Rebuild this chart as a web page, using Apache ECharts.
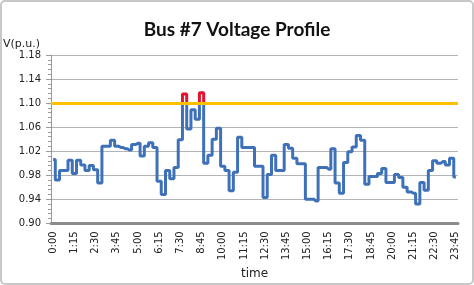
<!DOCTYPE html>
<html>
<head>
<meta charset="utf-8">
<script src="https://cdn.jsdelivr.net/npm/echarts@6/dist/echarts.min.js"></script>
<style>
html,body{margin:0;padding:0;background:#fff;}
#frame{position:absolute;left:0;top:0;width:474px;height:285px;box-sizing:border-box;border:2px solid #c8c8c8;border-radius:5px;background:#fff;}
#chart{position:absolute;left:0;top:0;width:474px;height:285px;}
</style>
</head>
<body>
<div id="frame"></div>
<div id="chart"></div>
<script>
const titleText = 'Bus #7 Voltage Profile';
const yAxisName = 'V(p.u.)';
const xAxisName = 'time';
const limitValue = 1.10;
const yTicks = { min: 0.90, max: 1.18, step: 0.04 };

const categories = [
'0:00','0:15','0:30','0:45','1:00','1:15','1:30','1:45','2:00','2:15','2:30','2:45',
'3:00','3:15','3:30','3:45','4:00','4:15','4:30','4:45','5:00','5:15','5:30','5:45',
'6:00','6:15','6:30','6:45','7:00','7:15','7:30','7:45','8:00','8:15','8:30','8:45',
'9:00','9:15','9:30','9:45','10:00','10:15','10:30','10:45','11:00','11:15','11:30','11:45',
'12:00','12:15','12:30','12:45','13:00','13:15','13:30','13:45','14:00','14:15','14:30','14:45',
'15:00','15:15','15:30','15:45','16:00','16:15','16:30','16:45','17:00','17:15','17:30','17:45',
'18:00','18:15','18:30','18:45','19:00','19:15','19:30','19:45','20:00','20:15','20:30','20:45',
'21:00','21:15','21:30','21:45','22:00','22:15','22:30','22:45','23:00','23:15','23:30','23:45'
];

const voltage = [
1.006,0.972,0.988,0.988,1.005,0.983,1.005,0.997,0.988,0.996,0.989,0.967,
1.028,1.028,1.038,1.028,1.026,1.024,1.022,1.031,1.033,1.012,1.028,1.034,
1.026,0.970,0.948,0.988,0.974,0.993,1.039,1.115,1.057,1.089,1.073,1.117,
1.000,1.013,1.040,1.058,0.995,0.988,0.954,0.985,1.043,1.026,1.026,1.026,
0.995,0.995,0.943,0.981,1.013,0.988,0.988,1.031,1.025,1.008,0.999,0.999,
0.940,0.940,0.937,0.993,0.993,0.990,1.024,0.967,0.950,1.001,1.019,1.027,
1.046,1.038,0.965,0.978,0.978,0.983,0.991,0.968,0.968,0.981,0.976,0.960,
0.952,0.950,0.932,0.968,0.955,0.988,1.004,1.000,1.003,0.997,1.008,0.977
];

const chart = echarts.init(document.getElementById('chart'), null, {renderer:'canvas'});
const fontFam = 'DejaVu Sans';
chart.setOption({
  animation: false,
  backgroundColor: 'transparent',
  title: {
    text: titleText, left: 'center', top: 15,
    textStyle: { fontFamily: 'Lato', fontWeight: 'bold', fontSize: 19, color: '#111' }
  },
  grid: { left: 49, right: 16, top: 55, bottom: 57, containLabel: false },
  visualMap: {
    show: false, type: 'piecewise', dimension: 1, seriesIndex: 0,
    pieces: [
      { gt: limitValue, lte: 2, color: '#e3142d' },
      { gte: 0, lte: limitValue, color: '#3f71b8' }
    ],
    outOfRange: { color: '#3f71b8' }
  },
  xAxis: {
    type: 'category', data: categories, boundaryGap: true,
    name: xAxisName, nameLocation: 'middle', nameGap: 40,
    nameTextStyle: { fontFamily: fontFam, fontSize: 12, color: '#222' },
    axisLine: { lineStyle: { color: '#8c8c8c', width: 3 } },
    axisTick: { show: false },
    axisLabel: { interval: 4, rotate: 90, fontFamily: fontFam, fontSize: 10, color: '#222', margin: 8 },
    splitLine: { show: false }
  },
  yAxis: {
    type: 'value', min: yTicks.min, max: yTicks.max, interval: yTicks.step,
    name: yAxisName, nameLocation: 'end', nameGap: 2,
    nameTextStyle: { fontFamily: fontFam, fontSize: 11, color: '#222', align: 'right', padding: [0, 11, 0, 0] },
    axisLine: { show: true, lineStyle: { color: '#9a9a9a', width: 1 } },
    axisTick: { show: true, length: 5, lineStyle: { color: '#9a9a9a' } },
    minorTick: { show: true, splitNumber: 5, length: 3, lineStyle: { color: '#9a9a9a' } },
    axisLabel: { fontFamily: fontFam, fontSize: 10, color: '#222', margin: 10, formatter: v => v.toFixed(2) },
    splitLine: { show: true, lineStyle: { color: '#b4b4b4', width: 1 } }
  },
  series: [{
    type: 'line', data: voltage, step: 'middle', symbol: 'none',
    lineStyle: { width: 3 },
    z: 3
  }, {
    type: 'line', data: [], symbol: 'none', z: 4,
    markLine: {
      silent: true, symbol: ['none', 'none'], label: { show: false },
      lineStyle: { color: '#ffc000', width: 3, type: 'solid' },
      data: [{ yAxis: limitValue }]
    }
  }]
});
</script>
</body>
</html>
